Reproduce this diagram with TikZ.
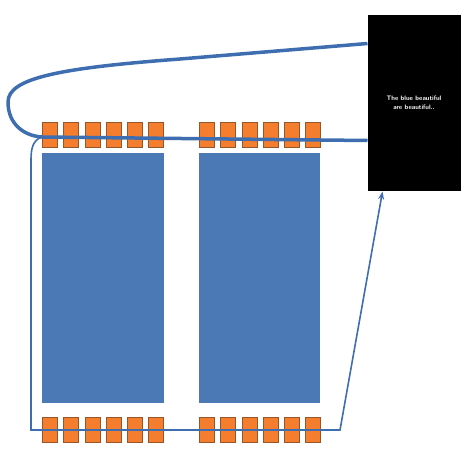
\documentclass[tikz,border=0pt]{standalone}
\usetikzlibrary{positioning,calc,arrows.meta}

\definecolor{boardblue}{HTML}{4A79B6}
\definecolor{lineblue}{HTML}{3E6EB0}
\definecolor{padorange}{HTML}{F47E2E}
\definecolor{padedge}{HTML}{95562A}

\begin{document}
\begin{tikzpicture}[x=1pt, y=-1pt, line width=1pt,
    board/.style={fill=boardblue, inner sep=0, minimum height=250},
    padbox/.style={fill=padorange, draw=padedge, line width=0.6pt, inner sep=0, minimum width=15, minimum height=25},
    bus/.style={draw=lineblue, line width=3.5pt, line join=round},
    wire/.style={draw=lineblue, line width=1.6pt}]

\useasboundingbox (0,0) rectangle (474,474);

% Display
\node[fill=black, draw=black, inner sep=0, minimum width=92, minimum height=175,
      text=white, font=\sffamily\bfseries\fontsize{6.5}{9}\selectfont, align=center]
  (display) at (414,102.5) {The blue beautiful\\are beautiful..};

% Boards
\node[board, minimum width=122] (board-l) at (103,278) {};
\node[board, minimum width=121] (board-r) at (259.5,278) {};

% Pads, top and bottom rows
\foreach \row/\ypos in {t/134.5, b/430}{
  \foreach \xpos [count=\i] in {50,71,92.5,113.5,134.5,155.5}
    \node[padbox] (pad-\row-l-\i) at (\xpos,\ypos) {};
  \foreach \xpos [count=\i] in {206.5,227.5,249.5,270.5,291.5,312.5}
    \node[padbox] (pad-\row-r-\i) at (\xpos,\ypos) {};
}

% Loop bus
\coordinate (bus-in) at ($(display.north west)+(0,29)$);
\coordinate (bus-out) at ($(display.north west)+(0,126)$);
\coordinate (tap) at (42,137);
\draw[bus] (bus-in) -- (180,59) .. controls (60,68) and (8,78) .. (8,102)
  .. controls (8,125) and (25,136) .. (tap) -- (bus-out);

% Return wire
\draw[wire, -{Stealth[length=8pt, width=6pt]}] (tap) .. controls (33,140) and (31,148) .. (31,160)
  -- (31,430) -- (340,430) -- ($(display.south west)+(15,1)$);

\end{tikzpicture}
\end{document}
